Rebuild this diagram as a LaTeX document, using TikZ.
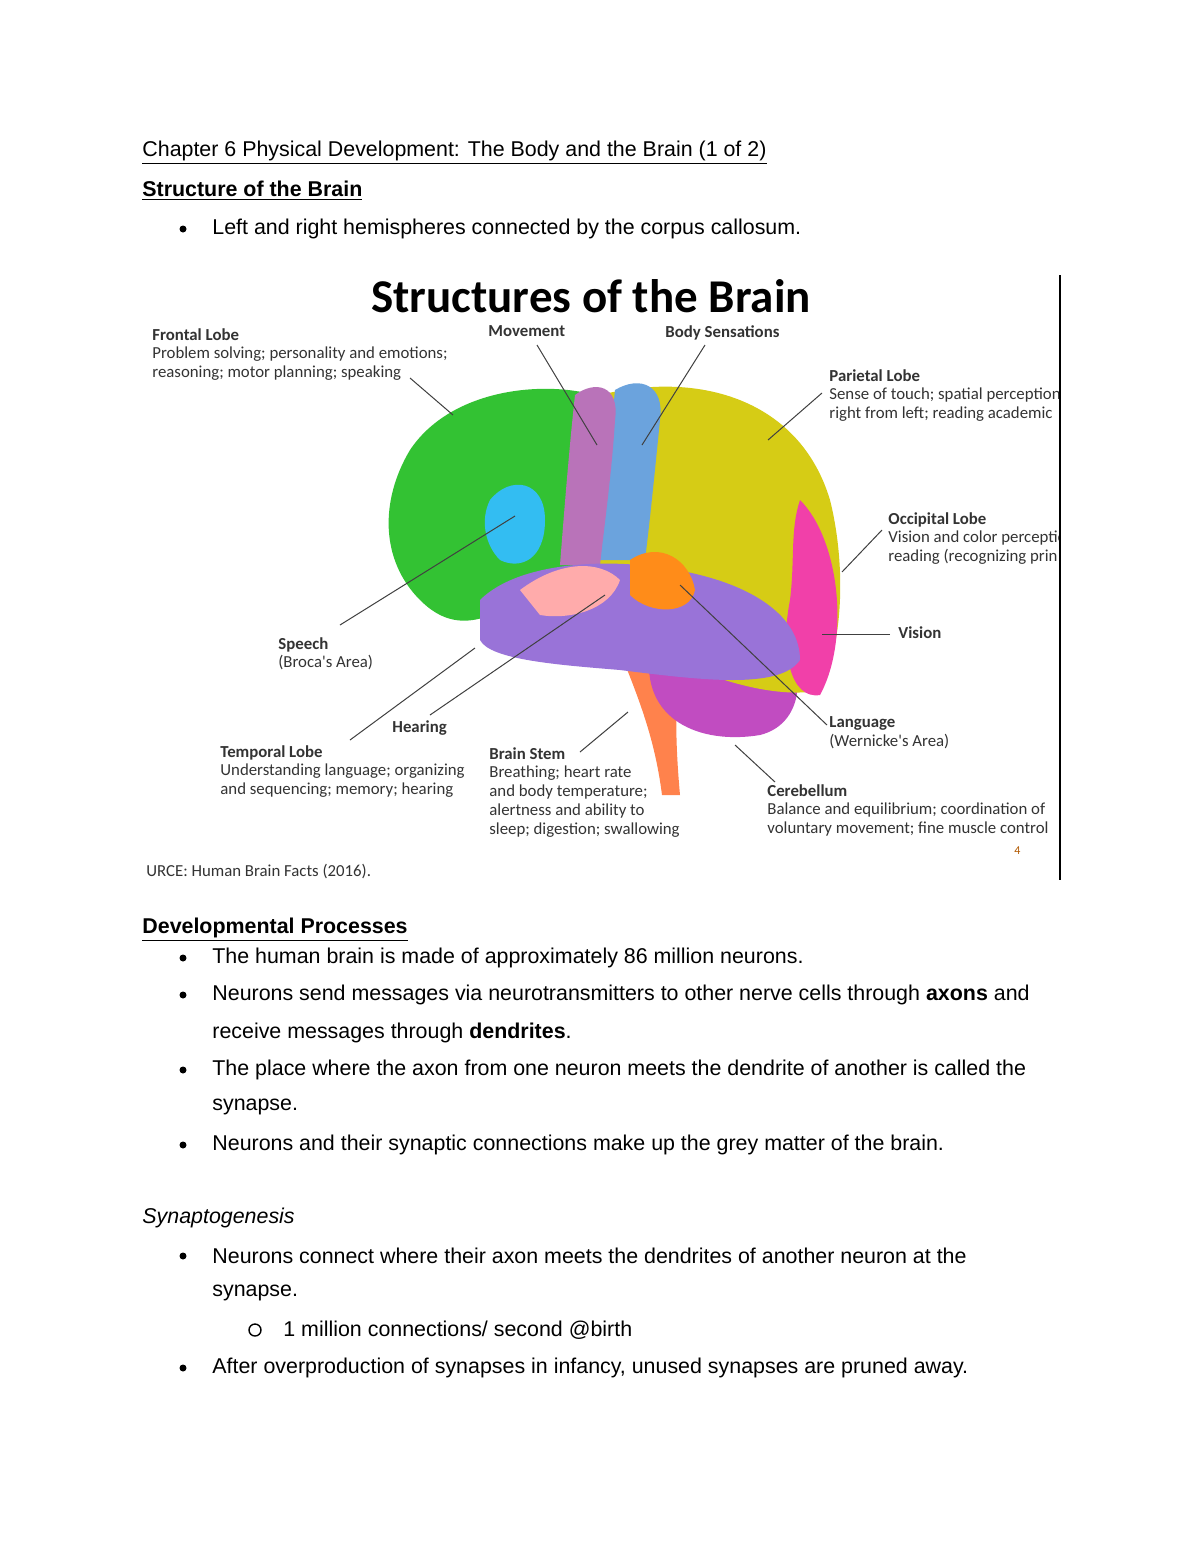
\documentclass[tikz,border=0pt]{standalone}
\usepackage{fontspec}
\setmainfont{Liberation Sans}
\newfontfamily\carl{Carlito}
\begin{document}
\begin{tikzpicture}[x=0.5pt,y=-0.5pt,
 body/.style={anchor=west,inner sep=0,font=\fontsize{10.7}{12}\selectfont},
 lab/.style={anchor=north west,inner sep=0,font=\carl\fontsize{8.4}{9.4}\selectfont,text=black!80,align=left},
 lead/.style={draw=black!75,line width=0.5pt},
 bul/.style={circle,fill=black,inner sep=0,minimum size=3.5pt}]
\useasboundingbox (0,0) rectangle (1200,1553);
\fill[white] (0,0) rectangle (1200,1553);
% text
\node[body] (h) at (142,153) {\underline{Chapter 6 Physical Development: The Body and the Brain (1 of 2)}};
\node[body] (s) at (142,191) {\underline{\textbf{Structure of the Brain}}};
\node[bul] at (183,229) {}; \node[body] at (212,229) {Left and right hemispheres connected by the corpus callosum.};
\node[body] at (142,930) {\underline{\textbf{Developmental Processes}}};
\node[bul] at (183,958) {}; \node[body] at (212,958) {The human brain is made of approximately 86 million neurons.};
\node[bul] at (183,995) {}; \node[body] at (212,995) {Neurons send messages via neurotransmitters to other nerve cells through \textbf{axons} and};
\node[body] at (212,1033) {receive messages through \textbf{dendrites}.};
\node[bul] at (183,1070) {}; \node[body] at (212,1070) {The place where the axon from one neuron meets the dendrite of another is called the};
\node[body] at (212,1107) {synapse.};
\node[bul] at (183,1145) {}; \node[body] at (212,1145) {Neurons and their synaptic connections make up the grey matter of the brain.};
\node[body] at (142,1218) {\textit{Synaptogenesis}};
\node[bul] at (183,1256) {}; \node[body] at (212,1256) {Neurons connect where their axon meets the dendrites of another neuron at the};
\node[body] at (212,1293) {synapse.};
\node[circle,draw=black,line width=0.7pt,inner sep=0,minimum size=6pt] at (255,1330) {}; \node[body] at (283,1330) {1 million connections/ second @birth};
\node[bul] at (183,1368) {}; \node[body] at (212,1368) {After overproduction of synapses in infancy, unused synapses are pruned away.};
% image
\draw[line width=1.2pt] (1060,275) -- (1060,880);
\begin{scope}
\clip (140,270) rectangle (1058,885);
\node[anchor=center,inner sep=0,font=\carl\bfseries\fontsize{23.5}{26}\selectfont] at (591,296) {Structures of the Brain};
% brainstem
\fill[orange!60!red!70] (615,640) .. controls (640,700) and (655,740) .. (662,795) -- (680,795) .. controls (675,740) and (675,700) .. (680,640) -- cycle;
% cerebellum
\fill[violet!70!magenta!70] (650,650) .. controls (640,720) and (700,745) .. (760,735) .. controls (800,725) and (805,680) .. (790,650) -- cycle;
% overall yellow
\fill[yellow!60!olive!90] (600,395) .. controls (700,370) and (800,400) .. (830,500) .. controls (845,560) and (845,640) .. (820,690) .. controls (780,700) and (700,680) .. (640,640) -- (600,600) -- cycle;
% occipital pink
\fill[magenta!75] (800,500) .. controls (840,540) and (850,640) .. (820,695) .. controls (790,700) and (780,650) .. (790,600) .. controls (795,560) and (790,530) .. (800,500) -- cycle;
% frontal green
\fill[green!70!black!80] (595,395) .. controls (540,380) and (450,390) .. (410,450) .. controls (380,500) and (380,560) .. (420,600) .. controls (450,630) and (480,625) .. (520,600) -- (590,560) -- cycle;
% blue strip
\fill[cyan!60!blue!60] (615,390) .. controls (640,375) and (665,385) .. (660,420) .. controls (655,470) and (650,520) .. (645,560) -- (600,560) .. controls (605,500) and (610,440) .. (615,390) -- cycle;
% purple strip
\fill[violet!55] (575,395) .. controls (595,380) and (620,385) .. (615,420) .. controls (612,470) and (605,520) .. (600,565) -- (560,565) .. controls (565,500) and (570,440) .. (575,395) -- cycle;
% broca cyan
\fill[cyan!80] (490,500) .. controls (510,475) and (545,480) .. (545,520) .. controls (545,560) and (520,570) .. (500,560) .. controls (485,545) and (480,520) .. (490,500) -- cycle;
% temporal lavender
\fill[blue!45!violet!55] (480,600) .. controls (520,560) and (620,555) .. (700,575) .. controls (760,590) and (800,620) .. (800,660) .. controls (780,690) and (700,680) .. (620,670) .. controls (560,665) and (490,660) .. (480,640) -- cycle;
% pink/orange area
\fill[pink!60!red!60] (520,590) .. controls (560,560) and (600,560) .. (620,580) .. controls (610,610) and (570,620) .. (540,615) -- cycle;
\fill[orange!90] (630,560) .. controls (660,540) and (690,560) .. (695,590) .. controls (690,615) and (650,615) .. (630,595) -- cycle;
% labels
\node[lab] (fl) at (152,328) {\textbf{Frontal Lobe}\\Problem solving; personality and emotions;\\reasoning; motor planning; speaking};
\node[lab] (mv) at (488,325) {\textbf{Movement}};
\node[lab] (bs) at (665,325) {\textbf{Body Sensations}};
\node[lab] (pl) at (829,369) {\textbf{Parietal Lobe}\\Sense of touch; spatial perception\\right from left; reading academic};
\node[lab] (ol) at (888,512) {\textbf{Occipital Lobe}\\Vision and color perception\\reading (recognizing prin};
\node[lab] (vi) at (898,626) {\textbf{Vision}};
\node[lab] (sp) at (278,637) {\textbf{Speech}\\(Broca's Area)};
\node[lab] (he) at (392,720) {\textbf{Hearing}};
\node[lab] (tl) at (220,745) {\textbf{Temporal Lobe}\\Understanding language; organizing\\and sequencing; memory; hearing};
\node[lab] (st) at (489,747) {\textbf{Brain Stem}\\Breathing; heart rate\\and body temperature;\\alertness and ability to\\sleep; digestion; swallowing};
\node[lab] (la) at (829,716) {\textbf{Language}\\(Wernicke's Area)};
\node[lab] (ce) at (767,784) {\textbf{Cerebellum}\\Balance and equilibrium; coordination of\\voluntary movement; fine muscle control};
\node[lab] at (146,864) {URCE: Human Brain Facts (2016).};
\node[lab,font=\carl\fontsize{6}{7}\selectfont,text=orange!70!black] at (1014,846) {4};
% leaders
\draw[lead] (410,378) -- (453,415);
\draw[lead] (537,345) -- (597,445);
\draw[lead] (705,345) -- (642,445);
\draw[lead] (822,393) -- (768,440);
\draw[lead] (882,530) -- (842,572);
\draw[lead] (890,634) -- (822,634);
\draw[lead] (340,625) -- (515,516);
\draw[lead] (350,740) -- (475,648);
\draw[lead] (430,715) -- (605,595);
\draw[lead] (580,752) -- (628,712);
\draw[lead] (827,725) -- (680,585);
\draw[lead] (775,782) -- (735,745);
\end{scope}
\end{tikzpicture}
\end{document}
